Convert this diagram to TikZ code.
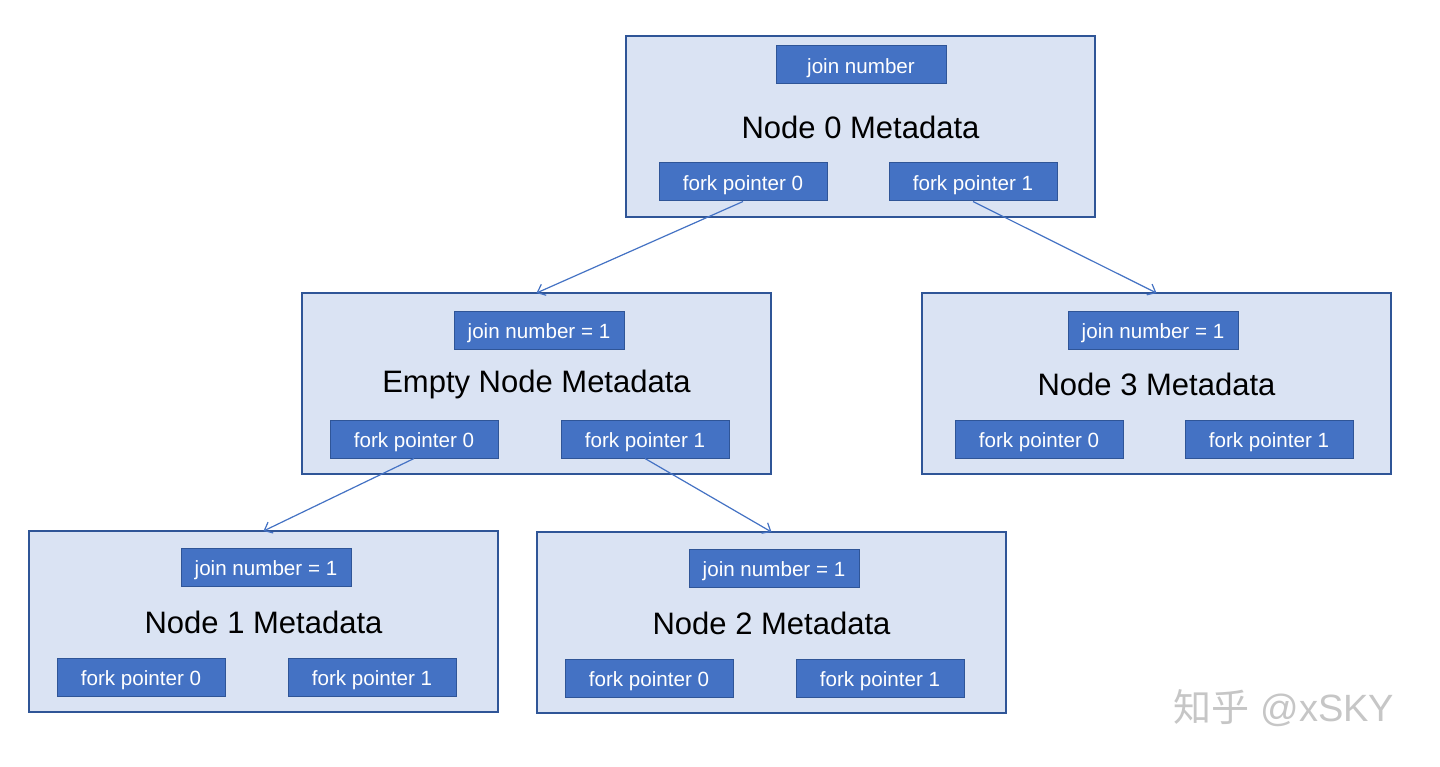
\documentclass[tikz,border=0pt]{standalone}
\usepackage{fontspec}
\setmainfont{Liberation Sans}
\newfontfamily\cjk{Noto Sans CJK SC}
\usetikzlibrary{arrows.meta}
\definecolor{outerfill}{HTML}{DAE3F3}
\definecolor{edge}{HTML}{2F5597}
\definecolor{inner}{HTML}{4472C4}
\begin{document}
\begin{tikzpicture}[x=1pt,y=-1pt,
 outer/.style={draw=edge,fill=outerfill,line width=1.3pt},
 innerbox/.style={draw=edge,fill=inner,line width=1pt,minimum height=38pt,inner sep=0pt},
 itext/.style={text=white,font=\fontsize{20.6}{22}\selectfont},
 ttext/.style={font=\fontsize{31}{33}\selectfont},
 arr/.style={draw=inner,line width=1.2pt,-{Straight Barb[length=7pt,width=12pt]}}]
\useasboundingbox (0,0) rectangle (1440,767);
\fill[white] (0,0) rectangle (1440,767);
\newcommand\metabox[9]{% name, x0,y0, title, joinlabel, joinx0, joiny0, fork0 off, fork1 off
 \draw[outer] (#2,#3) rectangle ++(469,181);
 \node[innerbox,minimum width=170pt] (#1j) at (#2+#6+85,#3+#7+19) {};
 \node[itext] at ([yshift=-3pt]#1j.center) {#5};
 \node[ttext] (#1t) at (#2+234.5,#3+91) {#4};
 \node[innerbox,minimum width=168pt] (#1f0) at (#2+#8+84,#3+146) {};
 \node[itext] at ([yshift=-3pt]#1f0.center) {fork pointer 0};
 \node[innerbox,minimum width=168pt] (#1f1) at (#2+#9+84,#3+146) {};
 \node[itext] at ([yshift=-3pt]#1f1.center) {fork pointer 1};
 \coordinate (#1top) at (#2+234.5,#3);
}
\metabox{n0}{626}{36}{Node 0 Metadata}{join number}{150}{10}{33}{263}
\metabox{ne}{302}{293}{Empty Node Metadata}{join number = 1}{152}{18}{28}{259}
\metabox{n3}{922}{293}{Node 3 Metadata}{join number = 1}{146}{18}{33}{263}
\metabox{n1}{29}{531}{Node 1 Metadata}{join number = 1}{152}{17}{28}{259}
\metabox{n2}{537}{532}{Node 2 Metadata}{join number = 1}{152}{17}{28}{259}
\draw[arr] (n0f0.south) -- (netop);
\draw[arr] (n0f1.south) -- (n3top);
\draw[arr] (nef0.south) -- (n1top);
\draw[arr] (nef1.south) -- (n2top);
\node[text=gray!45,font=\fontsize{38}{40}\selectfont] (wm) at (1284,708) {{\cjk 知乎} @xSKY};
\end{tikzpicture}
\end{document}
